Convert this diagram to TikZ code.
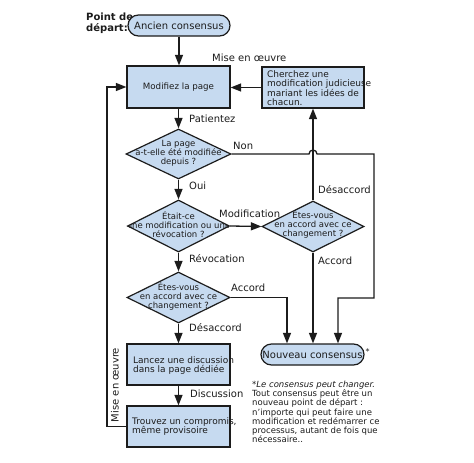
\documentclass[tikz,border=0pt]{standalone}
\usepackage{fontspec}
\setmainfont{DejaVu Sans}
\usetikzlibrary{arrows.meta,shapes.geometric}
\definecolor{boxfill}{RGB}{198,218,240}
\definecolor{ink}{RGB}{28,28,28}
\begin{document}
\begin{tikzpicture}[x=1pt,y=-1pt,
  every node/.style={text=ink},
  box/.style={draw=ink, fill=boxfill, line width=1.2pt, minimum width=103pt, minimum height=41pt, inner sep=0pt},
  pill/.style={box, minimum height=21pt, rounded corners=10.5pt, font=\fontsize{10}{12}\selectfont},
  dia/.style={draw=ink, fill=boxfill, line width=1.2pt, diamond, inner sep=0pt, minimum width=103pt, minimum height=51pt},
  dtext/.style={align=center, font=\fontsize{8.5}{9}\selectfont, inner sep=0pt},
  btext/.style={anchor=west, align=left, font=\fontsize{9}{9.3}\selectfont, inner sep=0pt},
  lbl/.style={anchor=west, font=\fontsize{10}{12}\selectfont, inner sep=0pt},
  arr/.style={-{Triangle[length=10.5pt,width=8pt]}, draw=ink, line width=1.3pt}
]
\fill[white] (0,0) rectangle (474,463);
\useasboundingbox (0,0) rectangle (474,463);

% start
\node[font=\bfseries\fontsize{10}{10.5}\selectfont, align=left, anchor=west, inner sep=0pt] (pd) at (86,23) {Point de\\départ:};
\node[pill, minimum width=102pt] (ac) at (179,25.5) {Ancien consensus};

% boxes
\node[box, minimum height=42pt, font=\fontsize{8.7}{10}\selectfont] (mp) at (178.5,87) {Modifiez la page};
\node[box, minimum width=102pt] (ch) at (313,87.5) {};
\node[btext] (cht) at (267,88) {Cherchez une\\modification judicieuse\\mariant les idées de\\chacun.};

% diamonds
\node[dia, minimum width=105pt, minimum height=50pt] (d1) at (178.5,154) {};
\begin{scope}
\clip (d1.north) -- (d1.east) -- (d1.south) -- (d1.west) -- cycle;
\node[dtext] (d1t) at (178.5,153) {La page\\a-t-elle été modifiée\\depuis ?};
\end{scope}

\node[dia, minimum width=102pt, minimum height=52pt] (d2) at (178.5,226) {};
\begin{scope}
\clip (d2.north) -- (d2.east) -- (d2.south) -- (d2.west) -- cycle;
\node[dtext] (d2t) at (178.5,225) {Était-ce\\une modification ou une\\révocation ?};
\end{scope}

\node[dia] (d3) at (178.5,297.5) {};
\begin{scope}
\clip (d3.north) -- (d3.east) -- (d3.south) -- (d3.west) -- cycle;
\node[dtext] (d3t) at (178.5,296) {Étes-vous\\en accord avec ce\\changement ?};
\end{scope}

\node[dia, minimum width=102pt] (d4) at (313,226.5) {};
\begin{scope}
\clip (d4.north) -- (d4.east) -- (d4.south) -- (d4.west) -- cycle;
\node[dtext] (d4t) at (313,224.5) {Étes-vous\\en accord avec ce\\changement ?};
\end{scope}

% lower boxes
\node[box] (lz) at (178.5,364.5) {};
\node[btext] (lzt) at (133,365.5) {Lancez une discussion\\dans la page dédiée};
\node[box] (tr) at (178.5,426.5) {};
\node[btext] (trt) at (132,426.5) {Trouvez un compromis,\\même provisoire};

% end
\node[pill] (nc) at (312.5,354.5) {Nouveau consensus};
\node[font=\fontsize{8}{9}\selectfont, inner sep=0pt] (star) at (367.5,352) {*};

% note
\node[anchor=north west, align=left, inner sep=0pt, font=\fontsize{8.5}{9.3}\selectfont] (note) at (252,380.5) {\textit{*Le consensus peut changer.}\\Tout consensus peut être un\\nouveau point de départ :\\n'importe qui peut faire une\\modification et redémarrer ce\\processus, autant de fois que\\nécessaire..};

% labels
\node[lbl] (mise1) at (212,58) {Mise en œuvre};
\node[lbl] (pat) at (189,119) {Patientez};
\node[lbl] (non) at (233,146) {Non};
\node[lbl] (oui) at (189,186) {Oui};
\node[lbl] (modif) at (219,214) {Modification};
\node[lbl] (desa1) at (318,190) {Désaccord};
\node[lbl] (acc1) at (318,261) {Accord};
\node[lbl] (revo) at (189,259) {Révocation};
\node[lbl] (acc2) at (231,288) {Accord};
\node[lbl] (desa2) at (189,328) {Désaccord};
\node[lbl] (disc) at (190,394) {Discussion};
\node[font=\fontsize{10}{12}\selectfont, inner sep=0pt, rotate=90] (mise2) at (115,385) {Mise en œuvre};

% connectors
\draw[arr] (ac.south) -- (ac.south |- mp.north);
\draw[arr] (ch.west) -- (ch.west -| mp.east);
\draw[arr] (mp.south) -- (d1.north);
\draw[arr] (d1.south) -- (d2.north);
\draw[arr] (d2.east) -- (d4.west);
\draw[arr] (d2.south) -- (d3.north);
\draw[arr] (d3.south) -- (lz.north);
\draw[arr] (lz.south) -- (tr.north);
\coordinate (lt) at (107,87);
\draw[arr] (tr.west) -| (lt) -- (mp.west);
\draw[arr] (d4.north) -- (ch.south);
\draw[arr] (d4.south) -- (d4.south |- nc.north);
\coordinate (hop) at (d4.north |- d1.east);
\coordinate (r1) at (374,154);
\coordinate (r2) at (374,298);
\coordinate (r3) at (338,298);
\draw[arr] (d1.east) -- ([xshift=-4pt]hop) arc[start angle=180,end angle=0,radius=4pt] -- (r1) -- (r2) -- (r3) -- (r3 |- nc.north);
\coordinate (a1) at (287,297.5);
\draw[arr] (d3.east) -- (a1) -- (a1 |- nc.north);
\end{tikzpicture}
\end{document}
